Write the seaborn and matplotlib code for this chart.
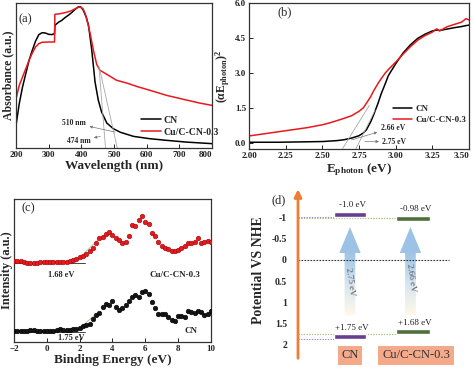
import numpy as np
import matplotlib
matplotlib.use('Agg')
import matplotlib.pyplot as plt
import seaborn as sns
from matplotlib.patches import Polygon
from matplotlib.colors import LinearSegmentedColormap

# ---------------- data ----------------
# (a) UV-vis absorbance
wl_cn = [200, 210, 220, 230, 240, 250, 260, 270, 280, 290, 300, 310, 318, 319, 330, 340,
         350, 360, 370, 380, 390, 397, 405, 415, 422, 432, 442, 452, 462, 478, 498, 520,
         560, 610, 660, 720, 800]
abs_cn = [0.156, 0.306, 0.421, 0.513, 0.605, 0.674, 0.738, 0.782, 0.795, 0.793, 0.784,
          0.782, 0.789, 0.846, 0.867, 0.880, 0.899, 0.915, 0.933, 0.954, 0.972, 0.975,
          0.954, 0.903, 0.846, 0.674, 0.455, 0.329, 0.248, 0.172, 0.133, 0.108, 0.080,
          0.064, 0.053, 0.041, 0.030]
wl_cu = [200, 210, 220, 230, 240, 250, 260, 270, 280, 300, 318, 319, 335, 355, 370, 380,
         390, 397, 405, 412, 420, 427, 437, 447, 457, 478, 508, 539, 569, 610, 661, 712,
         762, 800]
abs_cu = [0.340, 0.432, 0.490, 0.547, 0.605, 0.655, 0.697, 0.720, 0.729, 0.731, 0.731,
          0.922, 0.926, 0.936, 0.947, 0.959, 0.970, 0.972, 0.961, 0.926, 0.857, 0.789,
          0.674, 0.577, 0.536, 0.508, 0.467, 0.448, 0.425, 0.398, 0.363, 0.336, 0.310,
          0.294]
tan_a_cn = ([454, 474], [0.559, 0.0])
tan_a_cu = ([457, 510], [0.536, 0.0])

# (b) Tauc plot
e_ph = [2.00, 2.10, 2.20, 2.30, 2.40, 2.50, 2.55, 2.60, 2.65, 2.70, 2.75, 2.78, 2.80,
        2.83, 2.85, 2.88, 2.90, 2.93, 2.95, 3.00, 3.05, 3.10, 3.15, 3.20, 3.25, 3.28,
        3.30, 3.35, 3.40, 3.45, 3.48, 3.50]
tauc_cn = [0.02, 0.02, 0.02, 0.03, 0.04, 0.05, 0.07, 0.09, 0.13, 0.20, 0.30, 0.42, 0.55,
           0.90, 1.20, 1.70, 2.08, 2.55, 2.88, 3.39, 3.85, 4.20, 4.48, 4.66, 4.80, 4.84,
           4.82, 4.88, 4.94, 4.99, 5.03, 5.05]
tauc_cu = [0.29, 0.38, 0.47, 0.56, 0.65, 0.77, 0.85, 0.95, 1.05, 1.16, 1.35, 1.50, 1.69,
           1.98, 2.23, 2.55, 2.74, 3.00, 3.14, 3.46, 3.80, 4.12, 4.40, 4.60, 4.75, 4.89,
           4.80, 4.98, 5.08, 5.18, 5.33, 5.27]
tan_b_cu = ([2.638, 2.82], [-0.25, 1.6])
tan_b_cn = ([2.73, 2.86], [-0.25, 1.4])

# (c) VB-XPS
be = [-2.0, -1.8, -1.6, -1.4, -1.2, -1.0, -0.8, -0.6, -0.4, -0.2, 0.0, 0.2, 0.4, 0.6,
      0.8, 1.0, 1.2, 1.4, 1.6, 1.8, 2.0, 2.2, 2.4, 2.6, 2.8, 3.0, 3.2, 3.4, 3.6, 3.8,
      4.0, 4.2, 4.4, 4.6, 4.8, 5.0, 5.2, 5.4, 5.6, 5.8, 6.0, 6.2, 6.4, 6.6, 6.8, 7.0,
      7.2, 7.4, 7.6, 7.8, 8.0, 8.2, 8.4, 8.6, 8.8, 9.0, 9.2, 9.4, 9.6, 9.8, 10.0]
xps_cu = [242, 241, 241, 239, 237, 236, 237, 237, 238, 238, 238, 238, 238, 238, 238, 239,
          239, 241, 244, 248, 253, 256, 262, 272, 282, 295, 310, 315, 324, 330, 320, 310,
          305, 295, 300, 318, 350, 347, 365, 378, 360, 353, 325, 317, 300, 288, 282, 277,
          272, 271, 275, 280, 288, 295, 295, 298, 310, 295, 300, 302, 300]
xps_cn = [33, 33, 33, 33, 34, 35, 35, 34, 33, 32, 32, 33, 34, 36, 38, 37, 36, 36, 38, 40,
          43, 48, 52, 55, 70, 80, 88, 105, 114, 112, 122, 105, 95, 102, 110, 122, 135, 142,
          135, 150, 152, 145, 120, 102, 85, 85, 85, 75, 67, 62, 78, 78, 75, 92, 90, 88, 94,
          90, 82, 85, 92]

# (d) band positions
samples = ['CN', 'Cu/C-CN-0.3']
cb_levels = [-1.0, -0.98]
vb_levels = [1.75, 1.68]
gaps = ['2.75 eV', '2.66 eV']
cb_labels = ['-1.0 eV', '-0.98 eV']
vb_labels = ['+1.75 eV', '+1.68 eV']

RED = '#E8191E'
SERIF = ['Liberation Serif', 'DejaVu Serif']

sns.set_theme(style='ticks')
plt.rcParams['font.family'] = SERIF
plt.rcParams['font.weight'] = 'bold'
plt.rcParams['axes.labelweight'] = 'bold'
plt.rcParams['mathtext.fontset'] = 'custom'
plt.rcParams['mathtext.rm'] = 'Liberation Serif:bold'
plt.rcParams['mathtext.it'] = 'Liberation Serif:italic:bold'
plt.rcParams['mathtext.bf'] = 'Liberation Serif:bold'
plt.rcParams['xtick.direction'] = 'in'
plt.rcParams['ytick.direction'] = 'in'

fig = plt.figure(figsize=(4.74, 3.71), dpi=100)
W, H = 474.0, 371.0


def place(l, t, r, b):
    return [l / W, 1 - b / H, (r - l) / W, (b - t) / H]


def style_frame(ax):
    for s in ax.spines.values():
        s.set_color('#333333')
        s.set_linewidth(0.9)
    ax.tick_params(labelsize=6.5, length=3, width=0.7, pad=2, colors='#222222')


gray_arrow = dict(arrowstyle='<|-', color='#777777', lw=0.5, mutation_scale=4,
                  shrinkA=0, shrinkB=0)

# ---------------- (a) ----------------
ax = fig.add_axes(place(16, 3, 212, 148))
sns.lineplot(x=wl_cn, y=abs_cn, color='black', lw=1.1, label='CN', sort=False,
             estimator=None, ax=ax)
sns.lineplot(x=wl_cu, y=abs_cu, color=RED, lw=1.1, label='Cu/C-CN-0.3', sort=False,
             estimator=None, ax=ax)
ax.plot(*tan_a_cn, color='#A8A8A8', lw=0.6)
ax.plot(*tan_a_cu, color='#A8A8A8', lw=0.6)
ax.annotate('510 nm', xy=(503, 0.11), xytext=(378, 0.172), fontsize=5.5,
            ha='center', va='center', arrowprops=gray_arrow)
ax.annotate('474 nm', xy=(458, 0.08), xytext=(392, 0.048), fontsize=5.5,
            ha='center', va='center', arrowprops=gray_arrow)
ax.set_xlim(200, 800)
ax.set_ylim(0, 1.0)
ax.set_xticks([200, 300, 400, 500, 600, 700, 800])
ax.set_yticks([])
ax.set_xlabel('Wavelength (nm)', fontsize=9.5, labelpad=1)
ax.set_ylabel('Absorbance (a.u.)', fontsize=8.5, labelpad=1)
ax.text(228, 0.89, '(a)', fontsize=9, fontweight='normal', ha='center', va='center')
ax.legend(loc='upper left', bbox_to_anchor=(0.62, 0.25), frameon=False, fontsize=7,
          handlelength=2.0, handletextpad=0.3, labelspacing=0.3, borderaxespad=0)
style_frame(ax)
ax.get_xticklabels()[-1].set_horizontalalignment('right')

# ---------------- (b) ----------------
ax = fig.add_axes(place(249, 3, 469, 149))
sns.lineplot(x=e_ph, y=tauc_cn, color='black', lw=1.1, label='CN', sort=False,
             estimator=None, ax=ax)
sns.lineplot(x=e_ph, y=tauc_cu, color=RED, lw=1.1, label='Cu/C-CN-0.3', sort=False,
             estimator=None, ax=ax)
ax.plot(*tan_b_cu, color='#A8A8A8', lw=0.6)
ax.plot(*tan_b_cn, color='#A8A8A8', lw=0.6)
ax.annotate('2.66 eV', xy=(2.70, 0.12), xytext=(2.98, 0.65), fontsize=5.5,
            ha='center', va='center', arrowprops=gray_arrow)
ax.annotate('2.75 eV', xy=(2.79, 0.05), xytext=(2.99, 0.05), fontsize=5.5,
            ha='center', va='center', arrowprops=gray_arrow)
ax.set_xlim(2.0, 3.5)
ax.set_ylim(-0.27, 6.0)
ax.set_xticks([2.0, 2.25, 2.5, 2.75, 3.0, 3.25, 3.5])
ax.set_xticklabels(['2.00', '2.25', '2.50', '2.75', '3.00', '3.25', '3.50'])
ax.set_yticks([0, 1.5, 3.0, 4.5, 6.0])
ax.set_yticklabels(['0.0', '1.5', '3.0', '4.5', '6.0'])
ax.set_xlabel(r'$\mathregular{E_{photon}}$ (eV)', fontsize=9.5, labelpad=1)
ax.set_ylabel(r'$\mathregular{(αE_{photon})^2}$', fontsize=8.5, labelpad=2)
ax.text(2.245, 5.58, '(b)', fontsize=9, fontweight='normal', ha='center', va='center')
ax.legend(loc='upper left', bbox_to_anchor=(0.64, 0.33), frameon=False, fontsize=6.5,
          handlelength=2.1, handletextpad=0.3, labelspacing=0.3, borderaxespad=0)
style_frame(ax)
ax.get_xticklabels()[-1].set_horizontalalignment('right')

# ---------------- (c) ----------------
ax = fig.add_axes(place(14, 199, 211, 342))
sns.scatterplot(x=be, y=xps_cu, color=RED, edgecolor='#9A0A0A', linewidth=0.4, s=11,
                ax=ax, zorder=3)
sns.scatterplot(x=be, y=xps_cn, color='#151515', edgecolor='black', linewidth=0.4, s=11,
                ax=ax, zorder=3)
ax.plot([-2.0, 2.3], [237, 237], color='#444444', lw=0.7)
ax.plot([-2.0, 2.3], [29, 29], color='#444444', lw=0.7)
ax.plot([1.68, 3.1], [237, 305], color='#A8B890', lw=0.6)
ax.plot([1.75, 3.1], [31, 88], color='#A8B890', lw=0.6)
ax.text(0.86, 202, '1.68 eV', fontsize=6, ha='center', va='center')
ax.text(1.48, 12, '1.75 eV', fontsize=6, ha='center', va='center')
ax.text(7.83, 202, 'Cu/C-CN-0.3', fontsize=6.5, ha='center', va='center')
ax.text(8.77, 32, 'CN', fontsize=6.5, ha='center', va='center')
ax.text(-1.13, 400, '(c)', fontsize=9, fontweight='normal', ha='center', va='center')
ax.set_xlim(-2, 10)
ax.set_ylim(0, 428)
ax.set_xticks([-2, 0, 2, 4, 6, 8, 10])
ax.set_yticks([])
ax.set_xlabel('Binding Energy (eV)', fontsize=9.5, labelpad=1)
ax.set_ylabel('Intensity (a.u.)', fontsize=9, labelpad=1)
style_frame(ax)

# ---------------- (d) ----------------
ax = fig.add_axes(place(298, 188, 470, 360))
xpos = [0.0, 1.0]
bar_w = [0.5, 0.54]
bar_col = ['#673F8E', '#4F6F3B']
dot_col = ['#9C88CC', '#9CC46E']
x_left = -0.825
cb_bottom = [cb_levels[0], cb_levels[1] + 0.06]
vb_bottom = [vb_levels[0], vb_levels[1] - 0.05]
ax.bar(xpos, [-0.12, -0.12], bottom=cb_bottom, width=bar_w, color=bar_col, zorder=3)
ax.bar(xpos, [0.12, 0.12], bottom=vb_bottom, width=bar_w, color=bar_col, zorder=3)
for i in range(2):
    ax.plot([x_left, xpos[i] - bar_w[i] / 2], [cb_levels[i], cb_levels[i]],
            color=dot_col[i], lw=0.8, ls=(0, (1.2, 1.2)), zorder=2)
    vb_line = vb_bottom[i] + 0.11 if i == 0 else vb_bottom[i] + 0.12
    ax.plot([x_left, xpos[i] - bar_w[i] / 2], [vb_line, vb_line],
            color=dot_col[i], lw=0.8, ls=(0, (1.2, 1.2)), zorder=2)
    ax.text(xpos[i] + 0.04, cb_levels[i] - 0.28 + 0.07 * i, cb_labels[i], fontsize=6.5,
            fontweight='normal', ha='center', va='center', color='#222222')
    ax.text(xpos[i] + 0.03, vb_levels[i] - 0.15 - 0.05 * i, vb_labels[i], fontsize=6.5,
            fontweight='normal', ha='center', va='center', color='#222222')
    ax.text(xpos[i] + 0.05 * i, 2.25, samples[i], fontsize=9, fontweight='normal',
            ha='center', va='center', color='#333333',
            bbox=dict(boxstyle='square,pad=0.3', fc='#F4A98A', ec='none'))

ax.plot([x_left, 1.57], [0, 0], color='#333333', lw=0.8, ls=(0, (1.5, 1.2)), zorder=2)

# photo-excitation arrows with gradient fill
arrow_cmap = LinearSegmentedColormap.from_list('exc', ['#FFF9E8', '#D6E5F0', '#9CC3E6'])
arrow_x = [0.0, 0.96]
tip, head_base, tail = -0.77, -0.16, 1.31
hw_head, hw_shaft = 0.17, 0.085
ys = np.linspace(tail, tip, 256)
shade = np.clip((tail - ys) / (tail - head_base), 0, 1).reshape(-1, 1)
for i, xc in enumerate(arrow_x):
    verts = [(xc - hw_shaft, tail), (xc - hw_shaft, head_base), (xc - hw_head, head_base),
             (xc, tip), (xc + hw_head, head_base), (xc + hw_shaft, head_base),
             (xc + hw_shaft, tail)]
    poly = Polygon(verts, closed=True, fc='none', ec='none')
    ax.add_patch(poly)
    im = ax.imshow(shade, extent=[xc - hw_head, xc + hw_head, tail, tip], cmap=arrow_cmap,
                   vmin=0, vmax=1, aspect='auto', origin='lower', zorder=1)
    im.set_clip_path(poly)
    ax.text(xc, 0.51 - 0.08 * i, gaps[i], fontsize=6.5, fontweight='normal', rotation=-82,
            ha='center', va='center', color='#555555', zorder=4)

ax.annotate('', xy=(x_left, -1.66), xytext=(x_left, 2.32),
            arrowprops=dict(arrowstyle='-|>', color='#EE7D35', lw=2.0, mutation_scale=11,
                            shrinkA=0, shrinkB=0), annotation_clip=False)
ax.text(-1.13, -1.41, '(d)', fontsize=9, fontweight='normal', ha='center', va='center')

ax.set_xlim(x_left, 1.905)
ax.set_ylim(2.36, -1.69)
ax.set_xticks([])
ax.set_yticks([-1, -0.5, 0, 0.5, 1, 1.5, 2])
ax.set_yticklabels(['-1', '-0.5', '0', '0.5', '1', '1.5', '2'])
ax.tick_params(axis='y', length=0, pad=8, labelsize=7)
for s in ax.spines.values():
    s.set_visible(False)
ax.set_facecolor('white')
ax.set_ylabel('Potential VS NHE', fontsize=10)
ax.yaxis.set_label_coords(-0.19, 0.52)

fig.savefig('out.png', dpi=100)
